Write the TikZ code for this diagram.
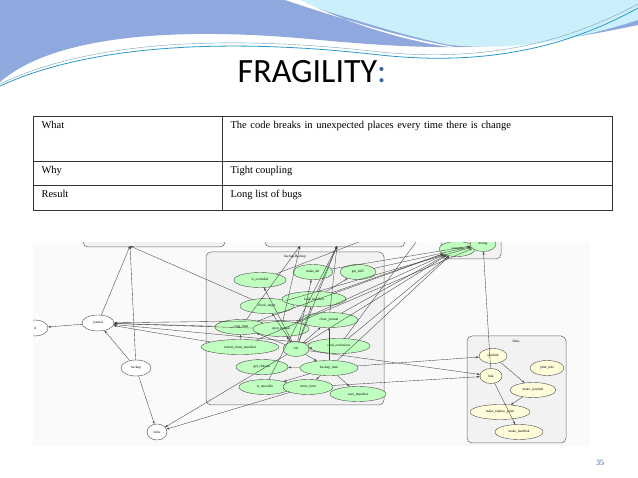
\documentclass[tikz,border=0pt]{standalone}
\usepackage{fontspec}
\setmainfont{Liberation Serif}
\newfontfamily\titlefont{Carlito}
\usetikzlibrary{arrows.meta,shapes.geometric}
\begin{document}
\begin{tikzpicture}[x=1pt,y=-1pt,
  gn/.style={ellipse,draw=black!70,fill=green!25!white,line width=0.4pt,inner sep=0pt,minimum height=15pt,font=\fontsize{3.5}{4}\selectfont},
  yn/.style={ellipse,draw=black!70,fill=yellow!15!white,line width=0.4pt,inner sep=0pt,minimum height=15pt,font=\fontsize{3.5}{4}\selectfont},
  wn/.style={ellipse,draw=black!70,fill=white,line width=0.4pt,inner sep=0pt,minimum height=16pt,font=\fontsize{3.5}{4}\selectfont},
  clus/.style={draw=black!60,fill=black!5,rounded corners=5pt,line width=0.5pt},
  ed/.style={draw=black!75,line width=0.35pt,-{Stealth[length=3pt,width=2pt]}},
  cell/.style={font=\fontsize{10.5}{12}\selectfont,anchor=north west,align=left}]
\useasboundingbox (0,0) rectangle (638,478);
\fill[white] (0,0) rectangle (638,478);
% header waves
\fill[cyan!45!blue!45!white] (0,0) -- (638,0) -- (638,25) .. controls (520,50) and (450,52) .. (320,40) .. controls (200,28) and (60,30) .. (0,82) -- cycle;
\fill[cyan!20!white] (290,0) -- (638,0) -- (638,20) .. controls (560,45) and (500,50) .. (450,45) .. controls (400,35) and (340,15) .. (290,0) -- cycle;
\fill[white] (285,0) .. controls (340,18) and (400,38) .. (460,48) .. controls (420,45) and (350,25) .. (300,0) -- cycle;
\draw[cyan!60!teal,line width=0.8pt] (0,86) .. controls (100,40) and (250,40) .. (380,55) .. controls (500,68) and (580,40) .. (638,8);
\draw[cyan!40!gray,line width=0.4pt] (0,84) .. controls (100,36) and (250,37) .. (380,52) .. controls (500,64) and (580,35) .. (638,4);
% title
\node (title) at (312,72) {\titlefont\fontsize{34}{36}\selectfont FRAGILITY\textcolor{cyan!50!blue!70!black}{:}};
% table
\draw[black!80,line width=0.6pt] (33,116) rectangle (612,210);
\draw[black!80,line width=0.5pt] (33,161) -- (612,161) (33,185) -- (612,185) (222,116) -- (222,210);
\node[cell] (w1) at (38,118) {What};
\node[cell,text width=380pt] (w2) at (227,118) {The code breaks in unexpected places every time there is change};
\node[cell] (y1) at (38,163) {Why};
\node[cell] (y2) at (227,163) {Tight coupling};
\node[cell] (r1) at (38,187) {Result};
\node[cell] (r2) at (227,187) {Long list of bugs};
% graph region
\begin{scope}
\clip (33,243) rectangle (590,446);
\fill[black!2] (33,243) rectangle (590,446);
\draw[clus] (83,225) rectangle (225,247);
\draw[clus] (265,225) rectangle (405,247);
\draw[clus] (441,225) rectangle (501,259);
\draw[clus] (206,252) rectangle (384,405);
\draw[clus] (467,336) rectangle (566,443);
\node[font=\fontsize{3.5}{4}\selectfont] (lbb) at (295,257) {backup.Backup};
\node[font=\fontsize{3.5}{4}\selectfont] (lbl) at (516,341) {links};
\node[gn,minimum width=36pt] (warning) at (457,249) {warning};
\node[gn,minimum width=26pt] (debug) at (483,244) {debug};
\node[gn,minimum width=52pt] (isex) at (260,280) {is\_excluded};
\node[gn,minimum width=40pt] (mkdir) at (313,272) {make\_dir};
\node[gn,minimum width=36pt] (md5) at (358,272) {get\_md5};
\node[gn,minimum width=54pt] (block) at (267,306) {block\_target};
\node[gn,minimum width=64pt] (loadm) at (314,299) {load\_manifest};
\node[gn,minimum width=58pt] (closej) at (329,320) {close\_journal};
\node[gn,minimum width=52pt] (copy) at (241,327) {copy\_item};
\node[gn,minimum width=56pt] (openj) at (281,329) {open\_journal};
\node[gn,minimum width=78pt] (restore) at (240,347) {restore\_from\_manifest};
\node[gn,minimum width=26pt] (run) at (296,349) {run};
\node[gn,minimum width=62pt] (readex) at (339,346) {read\_exclusions};
\node[gn,minimum width=52pt] (chk) at (262,367) {get\_chksum};
\node[gn,minimum width=58pt] (bitem) at (329,368) {backup\_item};
\node[gn,minimum width=52pt] (ismov) at (265,387) {is\_movable};
\node[gn,minimum width=50pt] (mvitem) at (308,387) {move\_item};
\node[gn,minimum width=56pt] (savem) at (358,394) {save\_manifest};
\node[yn,minimum width=28pt] (symlink) at (493,356) {symlink};
\node[yn,minimum width=34pt] (pinfo) at (547,368) {print\_info};
\node[yn,minimum width=22pt] (link) at (491,376) {link};
\node[yn,minimum width=46pt] (msym) at (533,390) {make\_symlink};
\node[yn,minimum width=60pt] (mrep) at (500,412) {make\_replace\_point};
\node[yn,minimum width=48pt] (mhard) at (519,432) {make\_hardlink};
\node[wn,minimum width=32pt] (journal) at (98,323) {journal};
\node[wn,minimum width=26pt] (ld) at (35,328) {d};
\node[wn,minimum width=30pt] (backup) at (136,368) {backup};
\node[wn,minimum width=20pt] (links) at (157,432) {links};
\coordinate (t1) at (130,246);
\coordinate (t2) at (337,246);
\coordinate (t3) at (300,246);
\coordinate (t4) at (390,230);
\coordinate (t5) at (425,230);
% edges
\draw[ed] (journal) -- (t1);
\draw[ed] (backup) -- (t1);
\draw[ed] (journal) -- (ld);
\draw[ed] (backup) -- (journal);
\draw[ed] (backup) -- (links);
\draw[ed] (run) -- (links);
\draw[ed] (mvitem) -- (links);
\draw[ed] (copy) -- (journal);
\draw[ed] (openj) -- (journal);
\draw[ed] (restore) -- (journal);
\draw[ed] (closej) -- (journal);
\draw[ed] (readex) -- (journal);
\draw[ed] (block) -- (t1);
\draw[ed] (run) -- (isex);
\draw[ed] (run) -- (mkdir);
\draw[ed] (run) -- (block);
\draw[ed] (run) -- (loadm);
\draw[ed] (run) -- (closej);
\draw[ed] (run) -- (openj);
\draw[ed] (run) -- (readex);
\draw[ed] (run) -- (bitem);
\draw[ed] (run) -- (copy);
\draw[ed] (restore) -- (copy);
\draw[ed] (loadm) -- (md5);
\draw[ed] (bitem) -- (chk);
\draw[ed] (bitem) -- (ismov);
\draw[ed] (bitem) -- (savem);
\draw[ed] (bitem) -- (mvitem);
\draw[ed] (bitem) -- (closej);
\draw[ed] (run) -- (t2);
\draw[ed] (loadm) -- (t2);
\draw[ed] (closej) -- (t2);
\draw[ed] (openj) -- (t3);
\draw[ed] (copy) -- (t3);
\draw[ed] (ismov) -- (t2);
\draw[ed] (isex) -- (t4);
\draw[ed] (readex) -- (t5);
\draw[ed] (copy) -- (warning);
\draw[ed] (openj) -- (warning);
\draw[ed] (loadm) -- (warning);
\draw[ed] (closej) -- (warning);
\draw[ed] (readex) -- (warning);
\draw[ed] (run) -- (warning);
\draw[ed] (bitem) -- (warning);
\draw[ed] (block) -- (debug);
\draw[ed] (restore) -- (debug);
\draw[ed] (mkdir) -- (debug);
\draw[ed] (md5) -- (debug);
\draw[ed] (link) -- (debug);
\draw[ed] (bitem) -- (symlink);
\draw[ed] (run) -- (link);
\draw[ed] (mvitem) -- (link);
\draw[ed] (symlink) -- (msym);
\draw[ed] (msym) -- (mrep);
\draw[ed] (link) -- (mhard);
\end{scope}
\node[font=\fontsize{8}{9}\selectfont,text=cyan!40!blue!80!black] (pg) at (600,463) {35};
\end{tikzpicture}
\end{document}
